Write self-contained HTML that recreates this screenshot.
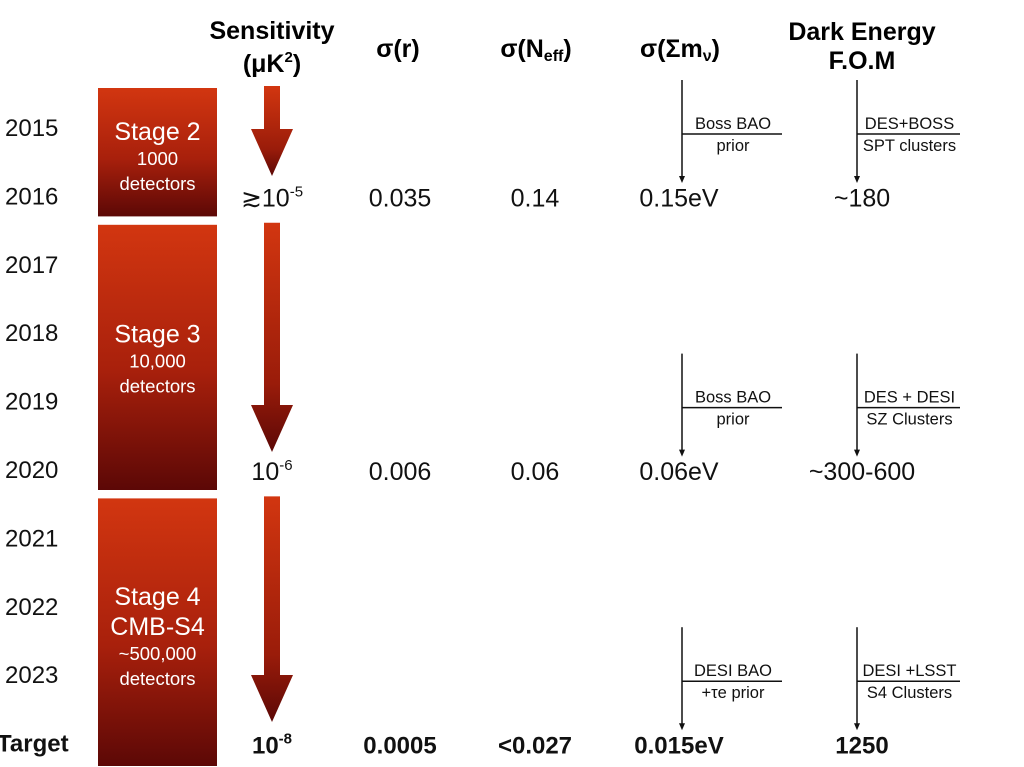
<!DOCTYPE html>
<html><head><meta charset="utf-8"><style>
html,body{margin:0;padding:0;background:#fff;}
svg{display:block;font-family:"Liberation Sans",Arial,sans-serif;}
</style></head><body>
<svg id="chart" width="1024" height="767" viewBox="0 0 1024 767" xmlns="http://www.w3.org/2000/svg">
<defs>
<linearGradient id="gb" x1="0" y1="0" x2="0" y2="1">
<stop offset="0" stop-color="#d23610"/><stop offset="0.55" stop-color="#a8200c"/><stop offset="1" stop-color="#5c0806"/>
</linearGradient>
<linearGradient id="ga" x1="0" y1="0" x2="0" y2="1">
<stop offset="0" stop-color="#d23610"/><stop offset="0.7" stop-color="#9a1c0a"/><stop offset="1" stop-color="#5c0806"/>
</linearGradient>
</defs>
<g font-weight="bold" fill="#000" text-anchor="middle">
<text x="272" y="39" font-size="25">Sensitivity</text>
<text x="272" y="72" font-size="25">(μK<tspan font-size="15" dy="-10">2</tspan><tspan dy="10">)</tspan></text>
<text x="398" y="57" font-size="25">σ(r)</text>
<text x="536" y="57" font-size="25">σ(N<tspan font-size="16" dy="4">eff</tspan><tspan dy="-4">)</tspan></text>
<text x="680" y="57" font-size="25">σ(Σm<tspan font-size="16" dy="4">ν</tspan><tspan dy="-4">)</tspan></text>
<text x="862" y="40" font-size="25">Dark Energy</text>
<text x="862" y="69" font-size="25">F.O.M</text>
</g>
<g id="years"></g>
<g id="stages"></g>
<g id="arrows"></g>
<g id="values"></g>
<g id="notes"></g>
</svg>
<script>
const years = ["2015","2016","2017","2018","2019","2020","2021","2022","2023","Target"];
const stageNames = ["Stage 2","Stage 3","Stage 4"];
const stageSub = [["1000","detectors"],["10,000","detectors"],["CMB-S4","~500,000","detectors"]];
const stageStart = [0,2,6];   // row index
const stageEnd = [1,5,9];
const rowValues = [
 {row:1, bold:false, vals:["≳10|-5","0.035","0.14","0.15eV","~180"]},
 {row:5, bold:false, vals:["10|-6","0.006","0.06","0.06eV","~300-600"]},
 {row:9, bold:true,  vals:["10|-8","0.0005","<0.027","0.015eV","1250"]}
];
const notes = [
 {row:0, a:["Boss BAO","prior"], b:["DES+BOSS","SPT clusters"]},
 {row:4, a:["Boss BAO","prior"], b:["DES + DESI","SZ Clusters"]},
 {row:8, a:["DESI BAO","+τe prior"], b:["DESI +LSST","S4 Clusters"]}
];
const NS="http://www.w3.org/2000/svg";
const rowY = i => 127 + i*68.4;
const colX = [272,400,535,679,862];
function mk(tag, attrs, parent){const e=document.createElementNS(NS,tag);for(const k in attrs)e.setAttribute(k,attrs[k]);parent.appendChild(e);return e;}
const gy=document.getElementById('years');
years.forEach((y,i)=>{
 const t=mk('text',{x:i===9?-3:5,y:rowY(i)+9,'font-size':24,fill:'#111','font-weight':i===9?'bold':'normal'},gy);
 
 
 t.textContent=y;
});
const gs=document.getElementById('stages');
const ga=document.getElementById('arrows');
stageNames.forEach((n,i)=>{
 const top=rowY(stageStart[i])-39, bot=i===2?766:rowY(stageEnd[i])+21;
 const r=mk('rect',{x:98,y:top,width:119,height:bot-top,fill:'url(#gb)'},gs);
 
 
 const lines=[n].concat(stageSub[i]);
 const big=i===2?2:1;
 const mid=(top+bot)/2;
 const hs=lines.map((l,j)=>j<big?30:25);
 const total=hs.reduce((a,b)=>a+b,0);
 let y=mid-total/2+ (i===0?4:(i===2?4:1));
 lines.forEach((l,j)=>{
  y+=hs[j];
  const t=mk('text',{x:157.5,y:y-6,'text-anchor':'middle',fill:'#fff','font-size':j<big?25:18.5},gs);
  
  
  t.textContent=l;
 });
 const aTop=top-2, aEnd=i===2?722:(i===0?176:452);
 const hTop=aEnd-47;
 const p=mk('path',{d:`M264 ${aTop} L280 ${aTop} L280 ${hTop} L293 ${hTop} L272 ${aEnd} L251 ${hTop} L264 ${hTop} Z`,fill:'url(#ga)'},ga);
 
 
});
const gv=document.getElementById('values');
rowValues.forEach(rv=>{
 rv.vals.forEach((v,c)=>{
  const t=mk('text',{x:colX[c],y:rowY(rv.row)+11,'text-anchor':'middle','font-size':rv.bold?24:25,'font-weight':rv.bold?'bold':'normal',fill:'#111'},gv);
  
  
  if(v.includes('|')){const [b,s]=v.split('|');t.textContent=b;const ts=mk('tspan',{'font-size':15,dy:-10},t);ts.textContent=s;}
  else t.textContent=v;
 });
});
const gn=document.getElementById('notes');
notes.forEach((n,k)=>{
 [[682,782,n.a],[857,960,n.b]].forEach(([x,x2,txt],j)=>{
  const cy=rowY(n.row)+7;
  const g=mk('g',{},gn);
  
  
  mk('line',{x1:x,y1:cy-54,x2:x,y2:cy+44,stroke:'#111','stroke-width':1.5},g);
  mk('path',{d:`M${x-3} ${cy+42} L${x+3} ${cy+42} L${x} ${cy+49} Z`,fill:'#111'},g);
  mk('line',{x1:x,y1:cy,x2:x2,y2:cy,stroke:'#111','stroke-width':1.5},g);
  const cx=(x+x2)/2+1;
  const t1=mk('text',{x:cx,y:cy-5,'text-anchor':'middle','font-size':16.5,fill:'#111'},g);t1.textContent=txt[0];
  const t2=mk('text',{x:cx,y:cy+17,'text-anchor':'middle','font-size':16.5,fill:'#111'},g);t2.textContent=txt[1];
 });
});
</script>
</body></html>
